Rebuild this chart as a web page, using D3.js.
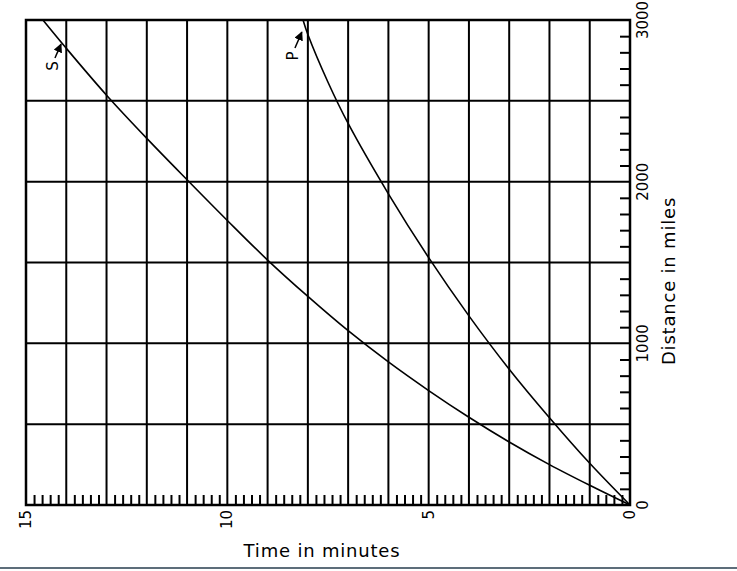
<!DOCTYPE html>
<html>
<head>
	<title>Travel time curves</title>
	<script src="https://d3js.org/d3.v7.min.js"></script>
	<style>
	body { margin: 0; background: #fff; }
	text { font-family: "DejaVu Sans", sans-serif; fill: #000; }
	</style>
</head>
<body>
<script type="text/javascript">

	// values (time in minutes, distance in miles)
	var sTimes     = [0, 1, 2, 3, 4, 5, 6, 7, 8, 9, 10, 11, 12, 13, 14, 14.58]
	var sDistances = [0, 122, 250, 390, 543, 708, 885, 1078, 1290, 1515, 1760, 2012, 2268, 2535, 2825, 3000]

	var pTimes     = [0, 1, 2, 3, 4, 5, 6, 7, 7.5, 8, 8.12]
	var pDistances = [0, 258, 540, 840, 1170, 1530, 1925, 2360, 2615, 2910, 3000]

	var xTickLabels = [15, 10, 5, 0]
	var yTickLabels = [0, 1000, 2000, 3000]

	// curve labels: [text, label time, label distance, arrow tip time, arrow tip distance]
	var curveLabels = [["S", 14.33, 2715, 14.13, 2851], ["P", 8.37, 2777, 8.15, 2925]]

	var width = 737
	var height = 571

	var svg = d3.select("body")
				.append("svg")
				.attr("width", width)
				.attr("height", height)

	// time runs right to left, distance bottom to top
	var x = d3.scaleLinear().domain([15, 0]).range([26, 630])
	var y = d3.scaleLinear().domain([0, 3000]).range([505, 20])

	var sData = sTimes.map(function(t, i) { return [t, sDistances[i]] })
	var pData = pTimes.map(function(t, i) { return [t, pDistances[i]] })

	//grid lines, one per minute and one per 500 miles
	svg.append("g")
		.selectAll("line")
		.data(d3.range(1, 15))
		.enter().append("line")
		.attr("x1", function(d) { return x(d) })
		.attr("x2", function(d) { return x(d) })
		.attr("y1", y(3000))
		.attr("y2", y(0))
		.attr("stroke", "#000")
		.attr("stroke-width", 2)

	svg.append("g")
		.selectAll("line")
		.data(d3.range(500, 3000, 500))
		.enter().append("line")
		.attr("x1", x(15))
		.attr("x2", x(0))
		.attr("y1", function(d) { return y(d) })
		.attr("y2", function(d) { return y(d) })
		.attr("stroke", "#000")
		.attr("stroke-width", 2)

	//small ticks, every 0.2 minutes and every 100 miles
	var xMinor = d3.range(1, 75).map(function(i) { return i / 5 }).filter(function(d, i) { return (i + 1) % 5 != 0 })
	var yMinor = d3.range(100, 3000, 100).filter(function(d) { return d % 500 != 0 })

	var xAxis = svg.append("g")
		.attr("transform", "translate(0," + y(0) + ")")
		.call(d3.axisTop(x).tickValues(xMinor).tickSize(10).tickFormat(""))
	xAxis.select(".domain").remove()
	xAxis.selectAll("line").attr("stroke-width", 2)

	var yAxis = svg.append("g")
		.attr("transform", "translate(" + x(0) + ",0)")
		.call(d3.axisLeft(y).tickValues(yMinor).tickSize(10).tickFormat(""))
	yAxis.select(".domain").remove()
	yAxis.selectAll("line").attr("stroke-width", 2)

	//frame
	svg.append("rect")
		.attr("x", x(15))
		.attr("y", y(3000))
		.attr("width", x(0) - x(15))
		.attr("height", y(0) - y(3000))
		.attr("fill", "none")
		.attr("stroke", "#000")
		.attr("stroke-width", 2.5)

	//the two curves
	var line = d3.line()
		.x(function(d) { return x(d[0]) })
		.y(function(d) { return y(d[1]) })
		.curve(d3.curveCatmullRom)

	svg.append("path")
		.datum(sData)
		.attr("d", line)
		.attr("fill", "none")
		.attr("stroke", "#000")
		.attr("stroke-width", 1.6)

	svg.append("path")
		.datum(pData)
		.attr("d", line)
		.attr("fill", "none")
		.attr("stroke", "#000")
		.attr("stroke-width", 1.6)

	//tick labels, turned on their side like the scan
	svg.append("g")
		.selectAll("text")
		.data(xTickLabels)
		.enter().append("text")
		.attr("transform", function(d) { return "translate(" + x(d) + "," + (y(0) + 5) + ") rotate(-90)" })
		.attr("text-anchor", "end")
		.attr("dominant-baseline", "central")
		.attr("font-size", "15px")
		.text(function(d) { return d })

	svg.append("g")
		.selectAll("text")
		.data(yTickLabels)
		.enter().append("text")
		.attr("transform", function(d) { return "translate(" + (x(0) + 13) + "," + y(d) + ") rotate(-90)" })
		.attr("text-anchor", "middle")
		.attr("dominant-baseline", "central")
		.attr("font-size", "15px")
		.text(function(d) { return d })

	//axis titles
	svg.append("text")
		.attr("x", 322)
		.attr("y", 557)
		.attr("text-anchor", "middle")
		.attr("font-size", "18px")
		.attr("letter-spacing", "0.8px")
		.text("Time in minutes")

	svg.append("text")
		.attr("transform", "translate(675,281) rotate(-90)")
		.attr("text-anchor", "middle")
		.attr("font-size", "18px")
		.attr("letter-spacing", "0.8px")
		.text("Distance in miles")

	//S and P labels with little arrows
	svg.append("defs").append("marker")
		.attr("id", "head")
		.attr("viewBox", "0 0 10 10")
		.attr("refX", 9)
		.attr("refY", 5)
		.attr("markerWidth", 6)
		.attr("markerHeight", 6)
		.attr("orient", "auto")
		.append("path")
		.attr("d", "M0,0L10,5L0,10z")
		.attr("fill", "#000")

	var labels = svg.append("g")
		.selectAll("g")
		.data(curveLabels)
		.enter().append("g")

	labels.append("text")
		.attr("transform", function(d) { return "translate(" + x(d[1]) + "," + y(d[2]) + ") rotate(-90)" })
		.attr("text-anchor", "middle")
		.attr("dominant-baseline", "central")
		.attr("font-size", "15px")
		.text(function(d) { return d[0] })

	labels.append("line")
		.attr("x1", function(d) { return x(d[1]) + 2 })
		.attr("y1", function(d) { return y(d[2]) - 8 })
		.attr("x2", function(d) { return x(d[3]) })
		.attr("y2", function(d) { return y(d[4]) })
		.attr("stroke", "#000")
		.attr("stroke-width", 1.5)
		.attr("marker-end", "url(#head)")

	//grey rule along the bottom edge of the scan
	svg.append("line")
		.attr("x1", 0)
		.attr("x2", width)
		.attr("y1", 568)
		.attr("y2", 568)
		.attr("stroke", "#5d6d7a")
		.attr("stroke-width", 2)

</script>
</body>
</html>
